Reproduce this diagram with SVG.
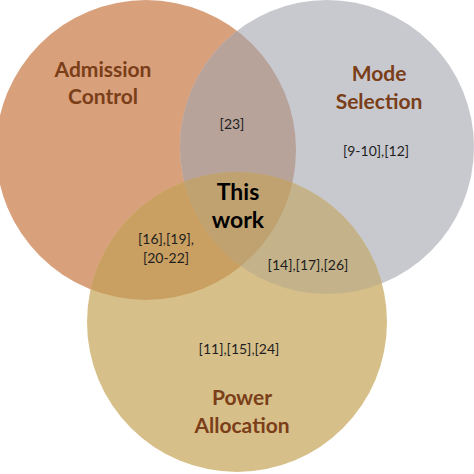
<svg xmlns="http://www.w3.org/2000/svg" width="474" height="474" viewBox="0 0 474 474">
  <style>
    .lbl { font-family: Lato, "Open Sans", "Liberation Sans", sans-serif; font-weight: bold; font-size: 21px; fill: #7A3E18; text-anchor: middle; }
    .ref { font-family: Lato, "Open Sans", "Liberation Sans", sans-serif; font-size: 14px; fill: #1E1E1E; text-anchor: middle; }
    .main { font-family: Lato, "Open Sans", "Liberation Sans", sans-serif; font-weight: bold; font-size: 23px; fill: #000; text-anchor: middle; }
  </style>
  <defs>
    <clipPath id="cA"><circle cx="146" cy="150" r="150"/></clipPath>
    <clipPath id="cM"><circle cx="327" cy="147" r="147"/></clipPath>
    <clipPath id="cP"><circle cx="237" cy="322" r="150"/></clipPath>
  </defs>
  <rect width="474" height="474" fill="#FFFFFF"/>
  <g id="admission-control">
    <circle cx="146" cy="150" r="150" fill="#D9A07C"/>
  </g>
  <g id="mode-selection">
    <circle cx="327" cy="147" r="147" fill="#C8C9CF"/>
  </g>
  <g id="power-allocation">
    <circle cx="237" cy="322" r="150" fill="#D7BF8A"/>
  </g>
  <g id="overlaps">
    <circle cx="327" cy="147" r="147" fill="#B8A39A" clip-path="url(#cA)"/>
    <circle cx="237" cy="322" r="150" fill="#C9A062" clip-path="url(#cA)"/>
    <circle cx="237" cy="322" r="150" fill="#C4B28A" clip-path="url(#cM)"/>
    <g clip-path="url(#cA)">
      <circle cx="237" cy="322" r="150" fill="#BFA270" clip-path="url(#cM)"/>
    </g>
  </g>
  <g id="labels">
    <text class="lbl" x="103" y="77">Admission</text>
    <text class="lbl" x="103" y="104">Control</text>
    <text class="lbl" x="379" y="81">Mode</text>
    <text class="lbl" x="379" y="109">Selection</text>
    <text class="lbl" x="242" y="405">Power</text>
    <text class="lbl" x="242" y="433">Allocation</text>
    <text class="main" x="238" y="200">This</text>
    <text class="main" x="238" y="228">work</text>
    <text class="ref" x="232" y="129">[23]</text>
    <text class="ref" x="376" y="156">[9-10],[12]</text>
    <text class="ref" x="166" y="244">[16],[19],</text>
    <text class="ref" x="166" y="263">[20-22]</text>
    <text class="ref" x="308" y="270">[14],[17],[26]</text>
    <text class="ref" x="239" y="354">[11],[15],[24]</text>
  </g>
</svg>
